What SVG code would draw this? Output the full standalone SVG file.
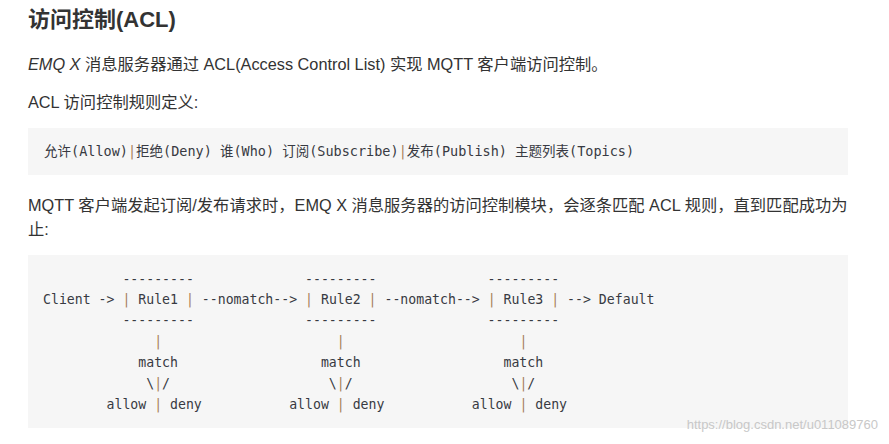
<svg xmlns="http://www.w3.org/2000/svg" width="889" height="444" viewBox="0 0 889 444">
<style>
.t{font-family:"Liberation Sans","Noto Sans CJK SC",sans-serif;fill:#333;font-size:16.3px}
.m{font-family:"DejaVu Sans Mono","Noto Sans CJK SC",monospace;fill:#383a42;font-size:13.2px;white-space:pre}
.p{fill:#a67f59}
</style>
<rect width="889" height="444" fill="#fff"/>
<text class="t" x="28" y="27" font-weight="bold" style="font-size:22px">访问控制(ACL)</text>
<text class="t" x="28" y="70"><tspan font-style="italic">EMQ X</tspan> 消息服务器通过 ACL(Access Control List) 实现 MQTT 客户端访问控制。</text>
<text class="t" x="28" y="108">ACL 访问控制规则定义:</text>
<rect x="28" y="128" width="820" height="47" fill="#f6f6f6"/>
<text class="m" x="44" y="156" style="font-size:13.5px">允许(Allow)<tspan class="p">|</tspan>拒绝(Deny) 谁(Who) 订阅(Subscribe)<tspan class="p">|</tspan>发布(Publish) 主题列表(Topics)</text>
<text class="t" x="28" y="211">MQTT 客户端发起订阅/发布请求时，EMQ X 消息服务器的访问控制模块，会逐条匹配 ACL 规则，直到匹配成功为</text>
<text class="t" x="28" y="235">止:</text>
<rect x="28" y="255" width="820" height="173" fill="#f6f6f6"/>
<g id="diagram" xml:space="preserve">
<text class="m" x="43" y="284">          ---------              ---------              ---------</text>
<text class="m" x="43" y="304">Client -&gt; <tspan class="p">|</tspan> Rule1 <tspan class="p">|</tspan> --nomatch--&gt; <tspan class="p">|</tspan> Rule2 <tspan class="p">|</tspan> --nomatch--&gt; <tspan class="p">|</tspan> Rule3 <tspan class="p">|</tspan> --&gt; Default</text>
<text class="m" x="43" y="325">          ---------              ---------              ---------</text>
<text class="m" x="43" y="346">              <tspan class="p">|</tspan>                      <tspan class="p">|</tspan>                      <tspan class="p">|</tspan></text>
<text class="m" x="43" y="367">            match                  match                  match</text>
<text class="m" x="43" y="388">             \<tspan class="p">|</tspan>/                    \<tspan class="p">|</tspan>/                    \<tspan class="p">|</tspan>/</text>
<text class="m" x="43" y="409">        allow <tspan class="p">|</tspan> deny           allow <tspan class="p">|</tspan> deny           allow <tspan class="p">|</tspan> deny</text>
</g>
<text x="878" y="429" text-anchor="end" style="font-family:'Liberation Sans',sans-serif;font-size:13px;fill:#c8c8c8">https://blog.csdn.net/u011089760</text>
</svg>
